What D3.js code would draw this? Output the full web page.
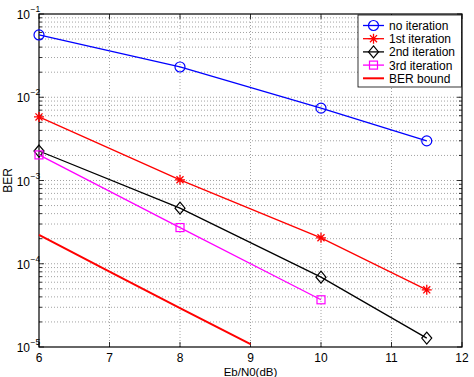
<!DOCTYPE html>
<html>
<head>
<meta charset="utf-8">
<script src="https://cdn.jsdelivr.net/npm/d3@7"></script>
<style>
  body { margin: 0; background: #fff; }
  svg { font-family: "Liberation Sans", Arial, sans-serif; }
</style>
</head>
<body>
<svg id="chart"></svg>
<script>
const w = 474
const h = 377
const margin = { top: 14, right: 12, bottom: 30, left: 39 }

// values
const xNoIter = [6, 8, 10, 11.5]
const yNoIter = [0.056, 0.0231, 0.0074, 0.00299]
const x1st = [6, 8, 10, 11.5]
const y1st = [0.0058, 0.00102, 0.000205, 0.0000486]
const x2nd = [6, 8, 10, 11.5]
const y2nd = [0.00226, 0.000465, 0.000069, 0.0000128]
const x3rd = [6, 8, 10]
const y3rd = [0.00203, 0.000272, 0.0000369]
const xBound = [6, 7, 8, 9]
const yBound = [0.000222, 0.0000806, 0.0000293, 0.0000108]

const xTicks = [6, 7, 8, 9, 10, 11, 12]
const yTicks = [1e-5, 1e-4, 1e-3, 1e-2, 1e-1]
const yExp = ["-5", "-4", "-3", "-2", "-1"]

const series = [
  { name: "no iteration", xs: xNoIter, ys: yNoIter, color: "#0000ff", marker: "circle", width: 1.3 },
  { name: "1st iteration", xs: x1st, ys: y1st, color: "#ff0000", marker: "star", width: 1.3 },
  { name: "2nd iteration", xs: x2nd, ys: y2nd, color: "#000000", marker: "diamond", width: 1.3 },
  { name: "3rd iteration", xs: x3rd, ys: y3rd, color: "#ff00ff", marker: "square", width: 1.3 },
  { name: "BER bound", xs: xBound, ys: yBound, color: "#ff0000", marker: null, width: 2 }
]

const svg = d3.select("#chart").attr("width", w).attr("height", h)

const x = d3.scaleLinear().domain([6, 12]).range([margin.left, w - margin.right])
const y = d3.scaleLog().domain([1e-5, 1e-1]).range([h - margin.bottom, margin.top])

const x0 = margin.left, x1 = w - margin.right
const y0 = h - margin.bottom, y1 = margin.top

// minor log ticks
const minor = []
for (let e = -5; e < -1; e++) {
  for (let m = 2; m <= 9; m++) minor.push(m * Math.pow(10, e))
}

// grid
const grid = svg.append("g").attr("stroke", "#8a8a8a").attr("stroke-width", 0.8).attr("stroke-dasharray", "1,2")
grid.selectAll(".gx").data(xTicks.slice(1, -1)).enter().append("line")
  .attr("x1", d => x(d)).attr("x2", d => x(d)).attr("y1", y0).attr("y2", y1)
grid.selectAll(".gy").data(minor.concat(yTicks.slice(1, -1))).enter().append("line")
  .attr("x1", x0).attr("x2", x1).attr("y1", d => y(d)).attr("y2", d => y(d))

// ticks on all four sides
const tk = svg.append("g").attr("stroke", "#000").attr("stroke-width", 0.8)
xTicks.forEach(t => {
  tk.append("line").attr("x1", x(t)).attr("x2", x(t)).attr("y1", y0).attr("y2", y0 - 5)
  tk.append("line").attr("x1", x(t)).attr("x2", x(t)).attr("y1", y1).attr("y2", y1 + 5)
})
yTicks.forEach(t => {
  tk.append("line").attr("x1", x0).attr("x2", x0 + 5).attr("y1", y(t)).attr("y2", y(t))
  tk.append("line").attr("x1", x1).attr("x2", x1 - 5).attr("y1", y(t)).attr("y2", y(t))
})
minor.forEach(t => {
  tk.append("line").attr("x1", x0).attr("x2", x0 + 3).attr("y1", y(t)).attr("y2", y(t))
  tk.append("line").attr("x1", x1).attr("x2", x1 - 3).attr("y1", y(t)).attr("y2", y(t))
})

// box
svg.append("rect").attr("x", x0).attr("y", y1).attr("width", x1 - x0).attr("height", y0 - y1)
  .attr("fill", "none").attr("stroke", "#000").attr("stroke-width", 1.2)

// tick labels
svg.append("g").selectAll("text").data(xTicks).enter().append("text")
  .attr("x", d => x(d)).attr("y", y0 + 15).attr("text-anchor", "middle")
  .attr("font-size", 12).text(d => d)

const yl = svg.append("g").selectAll("g").data(yTicks).enter().append("g")
yl.append("text").attr("x", 30).attr("y", d => y(d) + 5).attr("text-anchor", "end")
  .attr("font-size", 12).text("10")
yl.append("text").attr("x", 30.5).attr("y", d => y(d) - 2).attr("font-size", 8.5)
  .text((d, i) => "\u2212" + yExp[i].slice(1))

svg.append("text").attr("x", x(9)).attr("y", h - 1.5).attr("text-anchor", "middle")
  .attr("font-size", 11.5).text("Eb/N0(dB)")
svg.append("text").attr("transform", `translate(12, ${y(1e-3)}) rotate(-90)`)
  .attr("text-anchor", "middle").attr("font-size", 12).text("BER")

// markers
function drawMarker(g, type, cx, cy, color) {
  if (type === "circle") {
    g.append("circle").attr("cx", cx).attr("cy", cy).attr("r", 5)
      .attr("fill", "none").attr("stroke", color).attr("stroke-width", 1.2)
  } else if (type === "diamond") {
    g.append("path").attr("d", `M${cx},${cy - 6}L${cx + 5},${cy}L${cx},${cy + 6}L${cx - 5},${cy}Z`)
      .attr("fill", "none").attr("stroke", color).attr("stroke-width", 1.2)
  } else if (type === "square") {
    g.append("rect").attr("x", cx - 4).attr("y", cy - 4).attr("width", 8).attr("height", 8)
      .attr("fill", "none").attr("stroke", color).attr("stroke-width", 1.2)
  } else if (type === "star") {
    const r = 5
    const p = []
    for (let k = 0; k < 4; k++) {
      const a = k * Math.PI / 4
      p.push(`M${cx - r * Math.cos(a)},${cy - r * Math.sin(a)}L${cx + r * Math.cos(a)},${cy + r * Math.sin(a)}`)
    }
    g.append("path").attr("d", p.join("")).attr("stroke", color).attr("stroke-width", 1.3)
  }
}

const line = d3.line().x(d => x(d[0])).y(d => y(d[1]))
const plot = svg.append("g")
series.forEach(s => {
  const pts = s.xs.map((v, i) => [v, s.ys[i]])
  plot.append("path").datum(pts).attr("d", line).attr("fill", "none")
    .attr("stroke", s.color).attr("stroke-width", s.width)
  if (s.marker) pts.forEach(p => drawMarker(plot, s.marker, x(p[0]), y(p[1]), s.color))
})

// legend
const lg = svg.append("g")
lg.append("rect").attr("x", 358).attr("y", 15).attr("width", x1 - 358 - 0.5).attr("height", 72)
  .attr("fill", "#fff").attr("stroke", "#000").attr("stroke-width", 0.8)
series.forEach((s, i) => {
  const ly = 25.5 + i * 13.2
  lg.append("line").attr("x1", 363).attr("x2", 384).attr("y1", ly).attr("y2", ly)
    .attr("stroke", s.color).attr("stroke-width", s.width)
  if (s.marker) drawMarker(lg, s.marker, 373.5, ly, s.color)
  lg.append("text").attr("x", 389).attr("y", ly + 4.5).attr("font-size", 12).text(s.name)
})
</script>
</body>
</html>
